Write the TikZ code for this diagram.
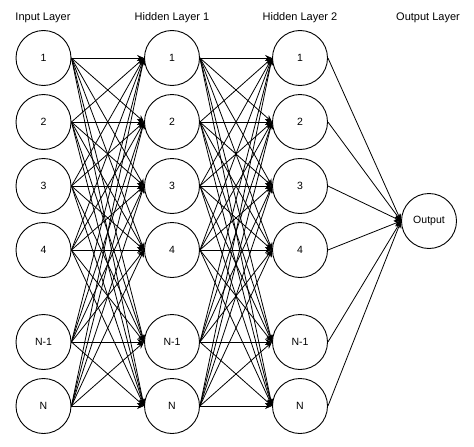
\documentclass[tikz,border=0pt]{standalone}
\usepackage{fontspec}
\setmainfont{Liberation Sans}
\usetikzlibrary{arrows.meta}
\begin{document}
\begin{tikzpicture}[x=1pt,y=-1pt,
  neuron/.style={circle,draw,line width=0.9pt,minimum size=55pt,inner sep=0pt,font=\fontsize{10.5}{12}\selectfont},
  title/.style={font=\fontsize{11}{13}\selectfont},
  conn/.style={line width=0.8pt,-{Stealth[length=7pt,width=6pt]}}]
\useasboundingbox (0,0) rectangle (474,447);
\node[title] (t1) at (43,18) {Input Layer};
\node[title] (t2) at (172,18) {Hidden Layer 1};
\node[title] (t3) at (300,18) {Hidden Layer 2};
\node[title] (t4) at (428,18) {Output Layer};
\foreach \lab [count=\k] in {1,2,3,4,N-1,N}{
  \pgfmathsetmacro{\yy}{\k<5 ? 58+64*(\k-1) : (\k==5 ? 342 : 406)}
  \node[neuron] (i\k) at (43.5,\yy) {\lab};
  \node[neuron] (h\k) at (172,\yy) {\lab};
  \node[neuron] (g\k) at (300,\yy) {\lab};
}
\node[neuron] (out) at (429,221) {Output};
\foreach \a in {1,...,6}{
  \foreach \b in {1,...,6}{
    \draw[conn] (i\a.east) -- (h\b.west);
    \draw[conn] (h\a.east) -- (g\b.west);
  }
  \draw[conn] (g\a.east) -- (out.west);
}
\end{tikzpicture}
\end{document}
